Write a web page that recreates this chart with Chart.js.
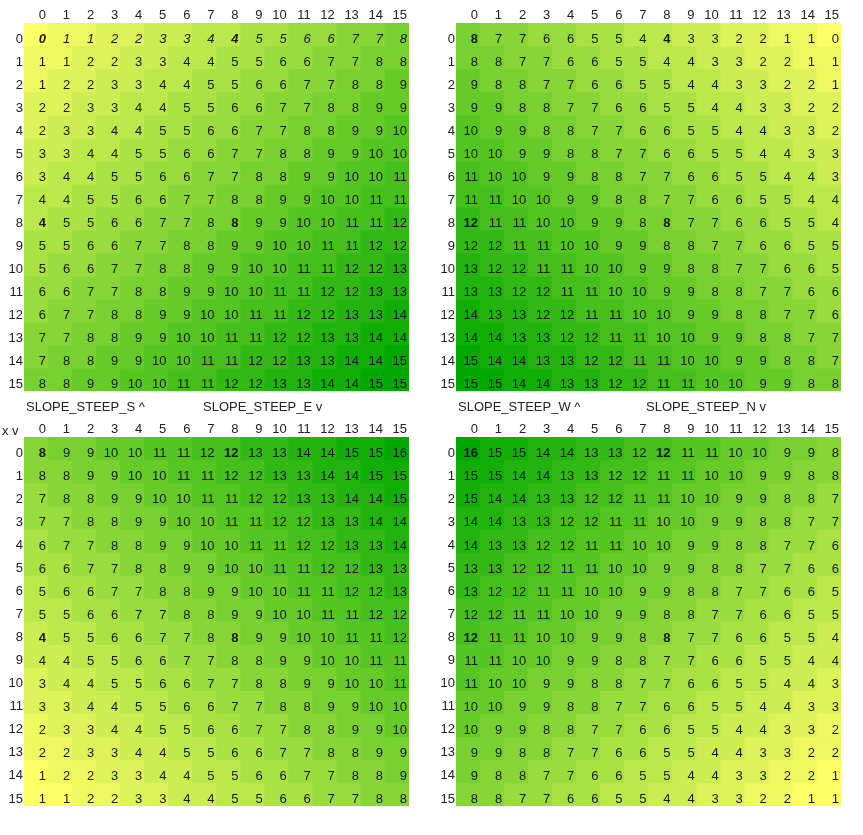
<!DOCTYPE html>
<html>
<head>
<meta charset="utf-8">
<script src="https://cdn.jsdelivr.net/npm/chart.js@4.4.1/dist/chart.umd.min.js"></script>
<style>
  html, body { margin: 0; padding: 0; background: #ffffff; }
  body { width: 863px; height: 835px; position: relative; overflow: hidden; font-family: "Liberation Sans", Arial, sans-serif; }
  canvas { position: absolute; }
  .cap { position: absolute; font-size: 13px; line-height: 15px; color: #222; white-space: pre; }
</style>
</head>
<body>
<canvas id="c0"></canvas>
<canvas id="c1"></canvas>
<canvas id="c2"></canvas>
<canvas id="c3"></canvas>
<div class="cap" style="left:26px; top:399px;">SLOPE_STEEP_S ^</div>
<div class="cap" style="left:203px; top:399px;">SLOPE_STEEP_E v</div>
<div class="cap" style="left:458px; top:399px;">SLOPE_STEEP_W ^</div>
<div class="cap" style="left:646px; top:399px;">SLOPE_STEEP_N v</div>
<div class="cap" style="left:2px; top:423px;">x v</div>
<script>
// ---------- DATA ----------
const colLabels = ['0','1','2','3','4','5','6','7','8','9','10','11','12','13','14','15'];
const rowLabels = ['0','1','2','3','4','5','6','7','8','9','10','11','12','13','14','15'];

const steepS = [
  [0,1,1,2,2,3,3,4,4,5,5,6,6,7,7,8],
  [1,1,2,2,3,3,4,4,5,5,6,6,7,7,8,8],
  [1,2,2,3,3,4,4,5,5,6,6,7,7,8,8,9],
  [2,2,3,3,4,4,5,5,6,6,7,7,8,8,9,9],
  [2,3,3,4,4,5,5,6,6,7,7,8,8,9,9,10],
  [3,3,4,4,5,5,6,6,7,7,8,8,9,9,10,10],
  [3,4,4,5,5,6,6,7,7,8,8,9,9,10,10,11],
  [4,4,5,5,6,6,7,7,8,8,9,9,10,10,11,11],
  [4,5,5,6,6,7,7,8,8,9,9,10,10,11,11,12],
  [5,5,6,6,7,7,8,8,9,9,10,10,11,11,12,12],
  [5,6,6,7,7,8,8,9,9,10,10,11,11,12,12,13],
  [6,6,7,7,8,8,9,9,10,10,11,11,12,12,13,13],
  [6,7,7,8,8,9,9,10,10,11,11,12,12,13,13,14],
  [7,7,8,8,9,9,10,10,11,11,12,12,13,13,14,14],
  [7,8,8,9,9,10,10,11,11,12,12,13,13,14,14,15],
  [8,8,9,9,10,10,11,11,12,12,13,13,14,14,15,15]
];

const steepW = [
  [8,7,7,6,6,5,5,4,4,3,3,2,2,1,1,0],
  [8,8,7,7,6,6,5,5,4,4,3,3,2,2,1,1],
  [9,8,8,7,7,6,6,5,5,4,4,3,3,2,2,1],
  [9,9,8,8,7,7,6,6,5,5,4,4,3,3,2,2],
  [10,9,9,8,8,7,7,6,6,5,5,4,4,3,3,2],
  [10,10,9,9,8,8,7,7,6,6,5,5,4,4,3,3],
  [11,10,10,9,9,8,8,7,7,6,6,5,5,4,4,3],
  [11,11,10,10,9,9,8,8,7,7,6,6,5,5,4,4],
  [12,11,11,10,10,9,9,8,8,7,7,6,6,5,5,4],
  [12,12,11,11,10,10,9,9,8,8,7,7,6,6,5,5],
  [13,12,12,11,11,10,10,9,9,8,8,7,7,6,6,5],
  [13,13,12,12,11,11,10,10,9,9,8,8,7,7,6,6],
  [14,13,13,12,12,11,11,10,10,9,9,8,8,7,7,6],
  [14,14,13,13,12,12,11,11,10,10,9,9,8,8,7,7],
  [15,14,14,13,13,12,12,11,11,10,10,9,9,8,8,7],
  [15,15,14,14,13,13,12,12,11,11,10,10,9,9,8,8]
];

const steepE = [
  [8,9,9,10,10,11,11,12,12,13,13,14,14,15,15,16],
  [8,8,9,9,10,10,11,11,12,12,13,13,14,14,15,15],
  [7,8,8,9,9,10,10,11,11,12,12,13,13,14,14,15],
  [7,7,8,8,9,9,10,10,11,11,12,12,13,13,14,14],
  [6,7,7,8,8,9,9,10,10,11,11,12,12,13,13,14],
  [6,6,7,7,8,8,9,9,10,10,11,11,12,12,13,13],
  [5,6,6,7,7,8,8,9,9,10,10,11,11,12,12,13],
  [5,5,6,6,7,7,8,8,9,9,10,10,11,11,12,12],
  [4,5,5,6,6,7,7,8,8,9,9,10,10,11,11,12],
  [4,4,5,5,6,6,7,7,8,8,9,9,10,10,11,11],
  [3,4,4,5,5,6,6,7,7,8,8,9,9,10,10,11],
  [3,3,4,4,5,5,6,6,7,7,8,8,9,9,10,10],
  [2,3,3,4,4,5,5,6,6,7,7,8,8,9,9,10],
  [2,2,3,3,4,4,5,5,6,6,7,7,8,8,9,9],
  [1,2,2,3,3,4,4,5,5,6,6,7,7,8,8,9],
  [1,1,2,2,3,3,4,4,5,5,6,6,7,7,8,8]
];

const steepN = [
  [16,15,15,14,14,13,13,12,12,11,11,10,10,9,9,8],
  [15,15,14,14,13,13,12,12,11,11,10,10,9,9,8,8],
  [15,14,14,13,13,12,12,11,11,10,10,9,9,8,8,7],
  [14,14,13,13,12,12,11,11,10,10,9,9,8,8,7,7],
  [14,13,13,12,12,11,11,10,10,9,9,8,8,7,7,6],
  [13,13,12,12,11,11,10,10,9,9,8,8,7,7,6,6],
  [13,12,12,11,11,10,10,9,9,8,8,7,7,6,6,5],
  [12,12,11,11,10,10,9,9,8,8,7,7,6,6,5,5],
  [12,11,11,10,10,9,9,8,8,7,7,6,6,5,5,4],
  [11,11,10,10,9,9,8,8,7,7,6,6,5,5,4,4],
  [11,10,10,9,9,8,8,7,7,6,6,5,5,4,4,3],
  [10,10,9,9,8,8,7,7,6,6,5,5,4,4,3,3],
  [10,9,9,8,8,7,7,6,6,5,5,4,4,3,3,2],
  [9,9,8,8,7,7,6,6,5,5,4,4,3,3,2,2],
  [9,8,8,7,7,6,6,5,5,4,4,3,3,2,2,1],
  [8,8,7,7,6,6,5,5,4,4,3,3,2,2,1,1]
];

// highlighted cells [row, col] drawn in bold
const boldCells = [[0,0],[0,8],[8,0],[8,8]];
// rows drawn in italic (top-left panel only)
const italicRowsS = [0];

// ---------- STYLE / LAYOUT ----------
const FONT = '"Liberation Sans", Arial, sans-serif';
const LOW = [255, 255, 102];
const HIGH = [0, 168, 0];

function cellColor(v, min, max) {
  const t = max === min ? 0 : (v - min) / (max - min);
  const c = LOW.map((lo, i) => Math.round(lo + (HIGH[i] - lo) * t));
  return `rgb(${c[0]},${c[1]},${c[2]})`;
}

const panels = [
  { id: 'c0', grid: steepS, italicRows: italicRowsS, left: 0,   top: 0,   w: 420, h: 400, pad: { left: 0, top: 0, right: 11, bottom: 8 } },
  { id: 'c1', grid: steepW, italicRows: [],          left: 432, top: 0,   w: 431, h: 400, pad: { left: 0, top: 0, right: 22, bottom: 8 } },
  { id: 'c2', grid: steepE, italicRows: [],          left: 0,   top: 414, w: 420, h: 421, pad: { left: 0, top: 0, right: 11, bottom: 29 } },
  { id: 'c3', grid: steepN, italicRows: [],          left: 432, top: 414, w: 431, h: 421, pad: { left: 0, top: 0, right: 22, bottom: 29 } }
];

const cellTextPlugin = {
  id: 'cellText',
  afterDatasetsDraw(chart) {
    const p = chart.options.plugins.cellText;
    const ctx = chart.ctx;
    ctx.save();
    ctx.fillStyle = '#1a1a1a';
    ctx.textAlign = 'right';
    ctx.textBaseline = 'alphabetic';
    chart.data.datasets.forEach((ds, r) => {
      const meta = chart.getDatasetMeta(r);
      meta.data.forEach((bar, c) => {
        const pr = bar.getProps(['x', 'y', 'base', 'width'], true);
        const bold = boldCells.some(b => b[0] === r && b[1] === c);
        const italic = p.italicRows.includes(r);
        ctx.font = `${italic ? 'italic ' : ''}${bold ? 'bold ' : ''}13px ${FONT}`;
        const right = pr.x + pr.width / 2 - 2;
        const bottom = Math.max(pr.y, pr.base);
        ctx.fillText(String(ds.values[c]), right, bottom - 2.8);
      });
    });
    ctx.restore();
  }
};

panels.forEach(pn => {
  const cv = document.getElementById(pn.id);
  cv.width = pn.w; cv.height = pn.h;
  cv.style.left = pn.left + 'px'; cv.style.top = pn.top + 'px';
  cv.style.width = pn.w + 'px'; cv.style.height = pn.h + 'px';
  const flat = pn.grid.flat();
  const vmin = Math.min(...flat), vmax = Math.max(...flat);
  const datasets = pn.grid.map((rowVals, r) => ({
    label: rowLabels[r],
    values: rowVals,
    data: colLabels.map(() => [r, r + 1]),
    backgroundColor: rowVals.map(v => cellColor(v, vmin, vmax)),
    borderWidth: 0,
    grouped: false,
    barPercentage: 1,
    categoryPercentage: 1
  }));
  new Chart(cv, {
    type: 'bar',
    data: { labels: colLabels, datasets },
    plugins: [cellTextPlugin],
    options: {
      responsive: false,
      animation: false,
      devicePixelRatio: 1,
      layout: { padding: pn.pad },
      plugins: {
        legend: { display: false },
        tooltip: { enabled: false },
        cellText: { italicRows: pn.italicRows }
      },
      scales: {
        x: {
          type: 'category',
          position: 'top',
          offset: true,
          grid: { display: false, drawTicks: false },
          border: { display: false },
          ticks: {
            align: 'end', labelOffset: 10, padding: 0, maxRotation: 0, autoSkip: false,
            color: '#222', font: { family: FONT, size: 13 }
          },
          afterFit: s => { s.height = 23; }
        },
        y: {
          type: 'linear',
          min: 0, max: 16, reverse: true,
          position: 'left',
          grid: { display: false, drawTicks: false },
          border: { display: false },
          afterBuildTicks: s => { s.ticks = rowLabels.map((l, i) => ({ value: i + 0.5 })); },
          ticks: {
            autoSkip: false, padding: 1, labelOffset: 4.5,
            color: '#222', font: { family: FONT, size: 13 },
            callback: (v, i) => rowLabels[i]
          },
          afterFit: s => { s.width = 24; }
        }
      }
    }
  });
});
</script>
</body>
</html>
